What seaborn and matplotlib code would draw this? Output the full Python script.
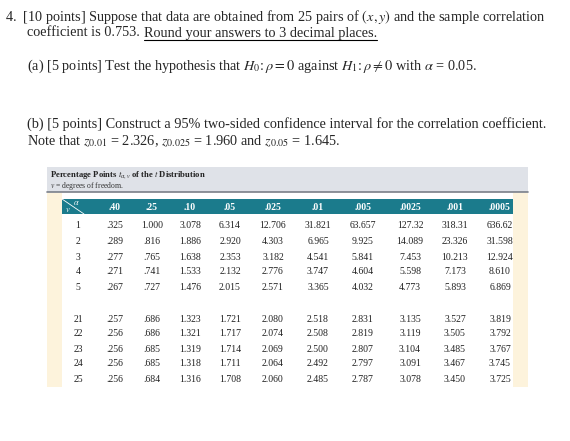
import matplotlib
matplotlib.use("Agg")
import matplotlib.pyplot as plt
import seaborn as sns
from matplotlib.patches import Rectangle

sns.set_theme(style="white")
plt.rcParams['font.family'] = ['Liberation Serif', 'DejaVu Serif']
plt.rcParams['mathtext.fontset'] = 'stix'

alphas = [".40", ".25", ".10", ".05", ".025", ".01", ".005", ".0025", ".001", ".0005"]
dof_top = ["1", "2", "3", "4", "5"]
dof_bottom = ["21", "22", "23", "24", "25"]
vals_top = [
    [".325", "1.000", "3.078", "6.314", "12.706", "31.821", "63.657", "127.32", "318.31", "636.62"],
    [".289", ".816", "1.886", "2.920", "4.303", "6.965", "9.925", "14.089", "23.326", "31.598"],
    [".277", ".765", "1.638", "2.353", "3.182", "4.541", "5.841", "7.453", "10.213", "12.924"],
    [".271", ".741", "1.533", "2.132", "2.776", "3.747", "4.604", "5.598", "7.173", "8.610"],
    [".267", ".727", "1.476", "2.015", "2.571", "3.365", "4.032", "4.773", "5.893", "6.869"],
]
vals_bottom = [
    [".257", ".686", "1.323", "1.721", "2.080", "2.518", "2.831", "3.135", "3.527", "3.819"],
    [".256", ".686", "1.321", "1.717", "2.074", "2.508", "2.819", "3.119", "3.505", "3.792"],
    [".256", ".685", "1.319", "1.714", "2.069", "2.500", "2.807", "3.104", "3.485", "3.767"],
    [".256", ".685", "1.318", "1.711", "2.064", "2.492", "2.797", "3.091", "3.467", "3.745"],
    [".256", ".684", "1.316", "1.708", "2.060", "2.485", "2.787", "3.078", "3.450", "3.725"],
]

fig = plt.figure(figsize=(5.7, 4.41), dpi=100)
ax = fig.add_axes([0, 0, 1, 1])
ax.set_xlim(0, 570)
ax.set_ylim(441, 0)
ax.axis("off")

fs = 10.3
ax.text(5, 17, "4.  [10 points] Suppose that data are obtained from 25 pairs of $(x, y)$ and the sample correlation",
        fontsize=fs, va="center")
t1 = ax.text(27, 33, "coefficient is 0.753.", fontsize=fs, va="center")
ax.text(27, 66, "(a) [5 points] Test the hypothesis that $H_0\\!:\\rho = 0$ against $H_1\\!:\\rho \\neq 0$ with $\\alpha$ = 0.05.",
        fontsize=fs, va="center")
ax.text(27, 124, "(b) [5 points] Construct a 95% two-sided confidence interval for the correlation coefficient.",
        fontsize=fs, va="center")
ax.text(27, 141, "Note that $z_{0.01}$ = 2.326, $z_{0.025}$ = 1.960 and $z_{0.05}$ = 1.645.",
        fontsize=fs, va="center")

fig.canvas.draw()
inv = ax.transData.inverted()
b1 = t1.get_window_extent().transformed(inv)
t2 = ax.text(b1.x1 + 4, 33, "Round your answers to 3 decimal places.", fontsize=fs, va="center")
fig.canvas.draw()
bb = t2.get_window_extent().transformed(inv)
ax.plot([bb.x0, bb.x1], [40, 40], color="black", lw=0.8)

# panels
ax.add_patch(Rectangle((47, 167), 481, 25, facecolor="#dfe2e8", edgecolor="none"))
ax.plot([47, 528], [192, 192], color="#7a7f88", lw=1.2)
ax.add_patch(Rectangle((47, 193), 481, 194, facecolor="#fdf3dc", edgecolor="none"))
ax.add_patch(Rectangle((62, 193), 451, 194, facecolor="white", edgecolor="none"))
ax.add_patch(Rectangle((62, 199), 451, 15, facecolor="#1b7b8c", edgecolor="none"))
ax.plot([62, 84], [199, 214], color="white", lw=0.6)
ax.text(50, 175, "Percentage Points $t_{\\alpha,v}$ of the $t$ Distribution", fontsize=6.2,
        fontweight="bold", va="center", color="#222")
ax.text(50, 186, "$v$ = degrees of freedom.", fontsize=5.5, va="center", color="#333")
ax.text(76, 203, "$\\alpha$", fontsize=6, color="white", va="center", ha="center", fontweight="bold")
ax.text(68, 210.5, "$v$", fontsize=6, color="white", va="center", ha="center", fontweight="bold")

col_x = [115, 152, 190, 230, 273, 318, 363, 410, 455, 500]
for x, a in zip(col_x, alphas):
    ax.text(x, 207, a, fontsize=7, color="white", ha="center", va="center", fontweight="bold")

rows_y_top = [226, 242, 257, 272, 287]
rows_y_bot = [319, 334, 349, 364, 379]
for ys, labels, vals in [(rows_y_top, dof_top, vals_top), (rows_y_bot, dof_bottom, vals_bottom)]:
    for y, lab, row in zip(ys, labels, vals):
        ax.text(78, y, lab, fontsize=7, ha="center", va="center", color="#222")
        for x, v in zip(col_x, row):
            ax.text(x, y, v, fontsize=7, ha="center", va="center", color="#222")

fig.savefig("out.png", dpi=100)
